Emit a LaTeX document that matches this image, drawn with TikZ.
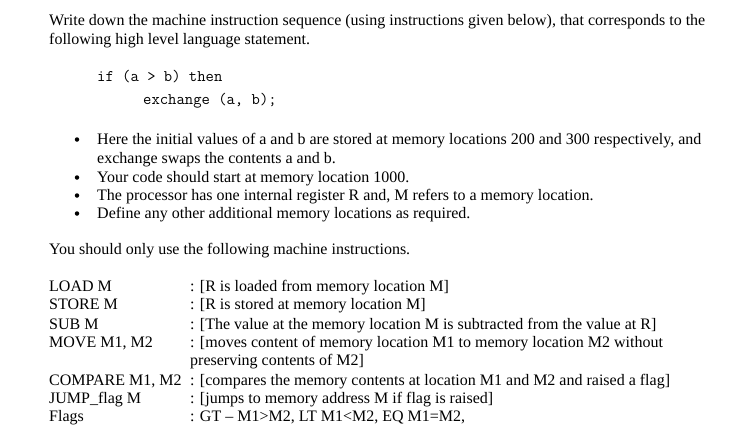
\documentclass[tikz,border=0pt]{standalone}
\usepackage{fontspec}
\setmainfont{Liberation Serif}
\tikzset{t/.style={anchor=base west,inner sep=0pt,font=\fontsize{16}{18}\selectfont},
 c/.style={anchor=base west,inner sep=0pt,font=\ttfamily\fontsize{16.2}{18}\selectfont},
 b/.style={circle,fill=black,inner sep=0pt,minimum size=4.5pt}}
\begin{document}
\begin{tikzpicture}[x=1pt,y=-1pt]
\useasboundingbox (0,0) rectangle (755,445);
\node[t] (l1) at (49,25) {Write down the machine instruction sequence (using instructions given below), that corresponds to the};
\node[t] (l2) at (49,44) {following high level language statement.};
\node[c] (c1) at (97,81) {if (a > b) then};
\node[c] (c2) at (143,104) {exchange (a, b);};
\foreach \y/\n/\s in {144/b1/{Here the initial values of a and b are stored at memory locations 200 and 300 respectively, and},
 182/b3/{Your code should start at memory location 1000.},
 200/b4/{The processor has one internal register R and, M refers to a memory location.},
 218/b5/{Define any other additional memory locations as required.}}
 {\node[t] (\n) at (97,\y) {\s}; \node[b] (\n d) at (77,\y-4.5) {};}
\node[t] (b2) at (97,163) {exchange swaps the contents a and b.};
\node[t] (on) at (49,254) {You should only use the following machine instructions.};
\foreach \y/\n/\a/\s in {291/r1/{LOAD M}/{: [R is loaded from memory location M]},
 309/r2/{STORE M}/{: [R is stored at memory location M]},
 329/r3/{SUB M}/{: [The value at the memory location M is subtracted from the value at R]},
 347/r4/{MOVE M1, M2}/{: [moves content of memory location M1 to memory location M2 without},
 385/r6/{COMPARE M1, M2}/{: [compares the memory contents at location M1 and M2 and raised a flag]},
 403/r7/{JUMP\_flag M}/{: [jumps to memory address M if flag is raised]},
 421/r8/{Flags}/{: GT -- M1>M2, LT M1<M2, EQ M1=M2,}}
 {\node[t] (\n a) at (49,\y) {\a}; \node[t] (\n b) at (190,\y) {\s};}
\node[t] (r5) at (190,365) {preserving contents of M2]};
\end{tikzpicture}
\end{document}
